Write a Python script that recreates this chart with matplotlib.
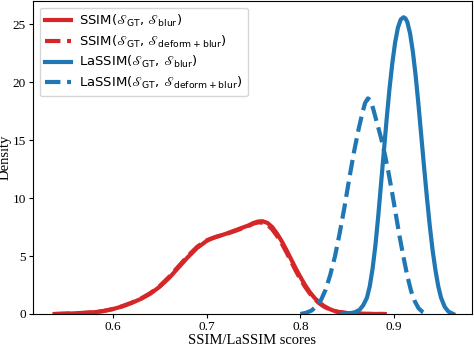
import matplotlib
matplotlib.use("Agg")
import matplotlib.pyplot as plt
import numpy as np

# KDE curves (score, density)
ssim_blur_x = [0.538, 0.55, 0.56, 0.57, 0.58, 0.59, 0.60, 0.61, 0.62, 0.63, 0.64, 0.65,
               0.66, 0.67, 0.68, 0.69, 0.70, 0.705, 0.71, 0.72, 0.73, 0.74, 0.745,
               0.75, 0.755, 0.76, 0.765, 0.77, 0.775, 0.78, 0.785, 0.79, 0.795, 0.80,
               0.805, 0.81, 0.815, 0.82, 0.825, 0.83, 0.835, 0.84, 0.85, 0.86, 0.87, 0.89]
ssim_blur_y = [0.0, 0.03, 0.06, 0.1, 0.15, 0.25, 0.42, 0.65, 0.95, 1.3, 1.75, 2.35,
               3.1, 4.0, 4.9, 5.7, 6.3, 6.5, 6.65, 6.9, 7.2, 7.5, 7.65,
               7.85, 7.98, 8.0, 7.85, 7.5, 6.95, 6.3, 5.55, 4.75, 3.95, 3.2,
               2.5, 1.9, 1.4, 1.0, 0.7, 0.47, 0.3, 0.19, 0.08, 0.03, 0.01, 0.0]

ssim_def_x = [0.538, 0.55, 0.56, 0.57, 0.58, 0.59, 0.60, 0.61, 0.62, 0.63, 0.64, 0.65,
              0.66, 0.67, 0.68, 0.69, 0.70, 0.705, 0.71, 0.72, 0.73, 0.74, 0.745,
              0.75, 0.755, 0.76, 0.765, 0.77, 0.775, 0.78, 0.785, 0.79, 0.795, 0.80,
              0.805, 0.81, 0.815, 0.82, 0.825, 0.83, 0.835, 0.84, 0.85, 0.86, 0.87, 0.89]
ssim_def_y = [0.0, 0.03, 0.06, 0.1, 0.15, 0.26, 0.43, 0.67, 0.97, 1.33, 1.8, 2.4,
              3.2, 4.1, 5.0, 5.8, 6.35, 6.5, 6.65, 6.88, 7.15, 7.45, 7.6,
              7.8, 7.9, 7.88, 7.7, 7.3, 6.75, 6.1, 5.35, 4.55, 3.75, 3.0,
              2.35, 1.78, 1.3, 0.93, 0.65, 0.44, 0.28, 0.18, 0.07, 0.03, 0.01, 0.0]

lassim_blur_x = [0.845, 0.852, 0.858, 0.863, 0.867, 0.871, 0.874, 0.877, 0.880, 0.883,
                 0.886, 0.889, 0.892, 0.895, 0.898, 0.901, 0.904, 0.907, 0.910, 0.912,
                 0.914, 0.917, 0.920, 0.923, 0.926, 0.929, 0.932, 0.935, 0.938, 0.941,
                 0.944, 0.947, 0.950, 0.954, 0.958, 0.963]
lassim_blur_y = [0.0, 0.05, 0.15, 0.35, 0.75, 1.4, 2.4, 3.9, 5.9, 8.4,
                 11.2, 14.0, 16.8, 19.4, 21.6, 23.4, 24.7, 25.4, 25.6, 25.5,
                 25.2, 24.2, 22.6, 20.5, 18.0, 15.3, 12.6, 10.0, 7.6, 5.5,
                 3.8, 2.4, 1.4, 0.6, 0.2, 0.0]

lassim_def_x = [0.800, 0.806, 0.812, 0.817, 0.822, 0.827, 0.832, 0.837, 0.842, 0.847,
                0.852, 0.857, 0.862, 0.866, 0.869, 0.872, 0.875, 0.878, 0.882, 0.886,
                0.890, 0.894, 0.898, 0.902, 0.906, 0.910, 0.914, 0.918, 0.922, 0.926,
                0.930, 0.935]
lassim_def_y = [0.0, 0.1, 0.3, 0.65, 1.2, 2.1, 3.4, 5.0, 7.0, 9.2,
                11.6, 13.9, 15.9, 17.3, 18.2, 18.6, 18.4, 17.6, 16.4, 15.2,
                13.8, 12.2, 10.4, 8.5, 6.6, 4.9, 3.3, 2.0, 1.1, 0.5,
                0.2, 0.0]

labels = [r"SSIM($\mathscr{S}_{\mathrm{GT}}$, $\mathscr{S}_{\mathrm{blur}}$)",
          r"SSIM($\mathscr{S}_{\mathrm{GT}}$, $\mathscr{S}_{\mathrm{deform + blur}}$)",
          r"LaSSIM($\mathscr{S}_{\mathrm{GT}}$, $\mathscr{S}_{\mathrm{blur}}$)",
          r"LaSSIM($\mathscr{S}_{\mathrm{GT}}$, $\mathscr{S}_{\mathrm{deform + blur}}$)"]

red = "#d62728"
blue = "#1f77b4"

fig = plt.figure(figsize=(4.74, 3.46), dpi=100)
ax = fig.add_axes([33 / 474, 32 / 346, 439 / 474, 313 / 346])

ax.plot(ssim_blur_x, ssim_blur_y, color=red, lw=3, label=labels[0])
ax.plot(ssim_def_x, ssim_def_y, color=red, lw=3, ls="--", label=labels[1])
ax.plot(lassim_blur_x, lassim_blur_y, color=blue, lw=3, label=labels[2])
ax.plot(lassim_def_x, lassim_def_y, color=blue, lw=3, ls="--", label=labels[3])

ax.set_xlim(0.515, 0.983)
ax.set_ylim(0, 27.0)
ax.set_xticks([0.6, 0.7, 0.8, 0.9])
ax.set_yticks([0, 5, 10, 15, 20, 25])
ax.tick_params(length=3, pad=2)
for t in ax.get_xticklabels() + ax.get_yticklabels():
    t.set_family("Liberation Serif")
    t.set_fontsize(9.5)
ax.set_xlabel("SSIM/LaSSIM scores", family="Liberation Serif", fontsize=10.5, labelpad=1)
ax.set_ylabel("Density", family="Liberation Serif", fontsize=10.5)
ax.yaxis.set_label_coords(-0.048, 0.5)

ax.legend(loc="upper left", fontsize=9.5, handlelength=2.0, borderaxespad=0.5,
          labelspacing=0.35, handletextpad=0.6)

fig.savefig("out.png", dpi=100)
